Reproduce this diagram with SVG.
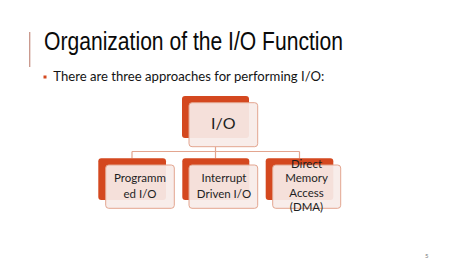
<svg xmlns="http://www.w3.org/2000/svg" width="474" height="266" viewBox="0 0 474 266">
<style>
.back{fill:#d4481f;}
.front{fill:#f8ece8;fill-opacity:0.93;stroke:#e3a58f;stroke-width:1;}
.lbl{font-family:Lato,"Open Sans",sans-serif;font-size:11.5px;fill:#1e1e1e;text-anchor:middle;}
.conn{fill:none;stroke:#e3a58f;stroke-width:1.2;}
</style>
<rect width="474" height="266" fill="#fff"/>
<line x1="29.7" y1="32" x2="29.7" y2="67" stroke="#c8968a" stroke-width="1.3"/>
<text x="44" y="50" font-family="'Liberation Sans',Arial,sans-serif" font-size="25" fill="#0a0a0a" textLength="299" lengthAdjust="spacingAndGlyphs">Organization of the I/O Function</text>
<rect x="43.5" y="75.5" width="3" height="3" fill="#d4481f"/>
<text x="53.3" y="80.7" font-family="Lato,'Open Sans',sans-serif" font-size="12.5" fill="#141414" textLength="271" lengthAdjust="spacingAndGlyphs">There are three approaches for performing I/O:</text>
<g id="connectors">
<path class="conn" d="M215.5 146.7 V151.5 M132 151.5 H299.5 M132 151.5 V158.3 M215.5 151.5 V158.3 M299.5 151.5 V158.3"/>
</g>
<g id="node-io">
<rect class="back" x="182" y="96" width="67" height="42" rx="3"/>
<rect class="front" x="189" y="102.7" width="68.7" height="44" rx="3"/>
<text class="lbl" x="223.3" y="129" style="font-size:16px">I/O</text>
</g>
<g id="node-programmed">
<rect class="back" x="98.3" y="158.3" width="67.7" height="41.7" rx="3"/>
<rect class="front" x="105.7" y="165" width="68.6" height="43.3" rx="3"/>
<text class="lbl" x="140" y="182.4">Programm</text>
<text class="lbl" x="140" y="197.6">ed I/O</text>
</g>
<g id="node-interrupt">
<rect class="back" x="182.3" y="158.3" width="67" height="41.7" rx="3"/>
<rect class="front" x="189" y="165" width="68.7" height="43.3" rx="3"/>
<text class="lbl" x="224" y="182.4">Interrupt</text>
<text class="lbl" x="224" y="197.6">Driven I/O</text>
</g>
<g id="node-dma">
<rect class="back" x="265.7" y="158.3" width="67.6" height="41.7" rx="3"/>
<rect class="front" x="272.7" y="165" width="68" height="43.3" rx="3"/>
<text class="lbl" x="306.5" y="167.6">Direct</text>
<text class="lbl" x="306.5" y="182.2">Memory</text>
<text class="lbl" x="306.5" y="196.7">Access</text>
<text class="lbl" x="306.5" y="211.2">(DMA)</text>
</g>
<text x="425" y="258" font-family="Lato,'Open Sans',sans-serif" font-size="6" fill="#777">5</text>
</svg>
